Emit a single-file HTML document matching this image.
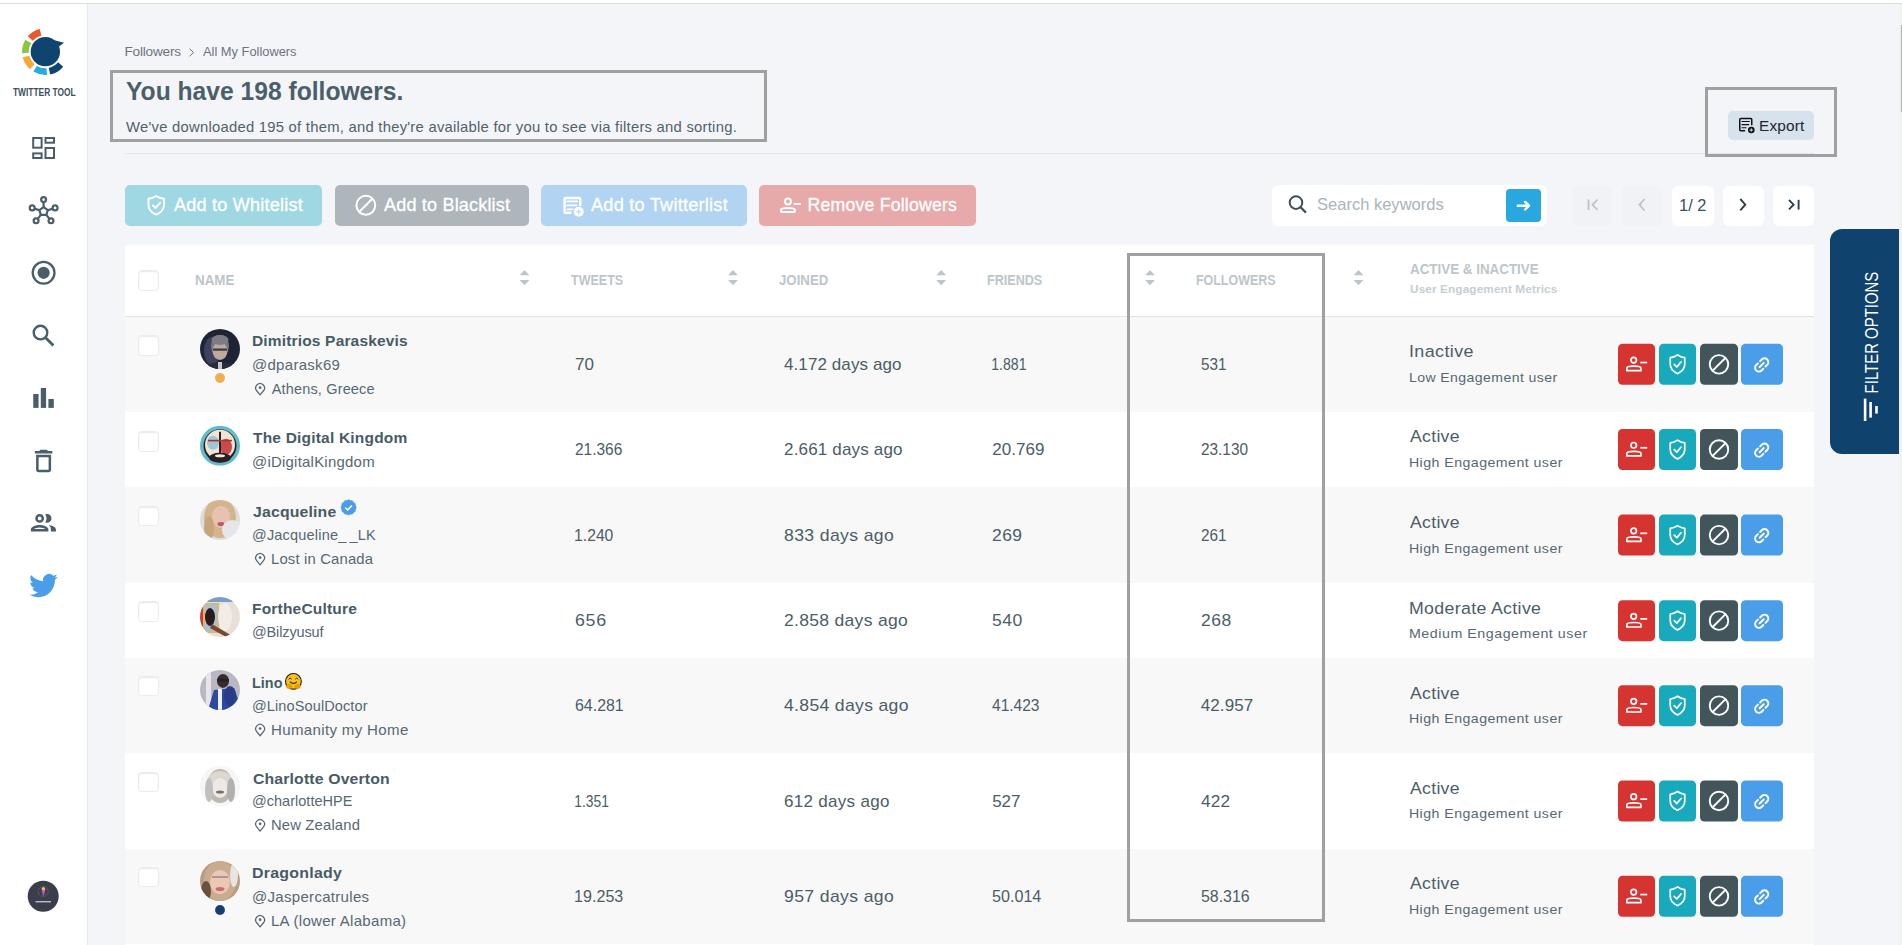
<!DOCTYPE html>
<html><head><meta charset="utf-8"><title>Followers</title><style>
*{margin:0;padding:0}
html,body{width:1902px;height:945px;overflow:hidden}
body{background:#f4f5f9;position:relative;font-family:"Liberation Sans", sans-serif}
.b{position:absolute}
.t{position:absolute;line-height:1;white-space:nowrap;z-index:3}
.ov{position:absolute;left:0;top:0;z-index:2;overflow:visible}
.top{z-index:5}
</style></head>
<body>
<div class="b" style="left:0px;top:0px;width:1902px;height:3px;background:#fff"></div><div class="b" style="left:0px;top:3px;width:1902px;height:1px;background:#dcdfe0"></div><div class="b" style="left:0px;top:4px;width:87px;height:941px;background:#fff"></div><div class="b" style="left:87px;top:4px;width:1px;height:941px;background:#e4e8f4"></div><div class="b" style="left:1899px;top:4px;width:3px;height:941px;background:#f1f1f1"></div><div class="b" style="left:1900.5px;top:25px;width:1.5px;height:87px;background:#b0b0b0"></div><div class="b" style="left:125px;top:153px;width:1689px;height:1px;background:#e2e7f0"></div><div class="b" style="left:1728px;top:111px;width:86px;height:29px;background:#d6e2ec;border-radius:5px"></div><div class="b" style="left:125px;top:185px;width:197px;height:41px;background:#9fd8e2;border-radius:5px"></div><div class="b" style="left:335px;top:185px;width:194px;height:41px;background:#aeb5bb;border-radius:5px"></div><div class="b" style="left:541px;top:185px;width:206px;height:41px;background:#b1d4f3;border-radius:5px"></div><div class="b" style="left:759px;top:185px;width:217px;height:41px;background:#e8a9aa;border-radius:5px"></div><div class="b" style="left:1272px;top:185px;width:275px;height:41px;background:#fff;border-radius:6px"></div><div class="b" style="left:1506px;top:189px;width:35px;height:32.5px;background:#29a8e0;border-radius:4px"></div><div class="b" style="left:1572px;top:185.5px;width:40px;height:40.5px;background:#f0f2f5;border-radius:6px"></div><div class="b" style="left:1622px;top:185.5px;width:40px;height:40.5px;background:#f0f2f5;border-radius:6px"></div><div class="b" style="left:1672px;top:185.5px;width:42px;height:40.5px;background:#fff;border-radius:6px"></div><div class="b" style="left:1723px;top:185.5px;width:40.5px;height:40.5px;background:#fff;border-radius:6px"></div><div class="b" style="left:1773px;top:185.5px;width:41px;height:40.5px;background:#fff;border-radius:6px"></div><div class="b" style="left:125px;top:245px;width:1689px;height:71px;background:#fff"></div><div class="b" style="left:125px;top:316px;width:1689px;height:1px;background:#dfe4ee"></div><div class="b" style="left:138.3px;top:270.2px;width:20.5px;height:20.5px;background:#fff;border:1px solid #ebebeb;border-radius:3.5px;box-shadow:inset 0 1px 1.5px rgba(0,0,0,0.09);box-sizing:border-box"></div><div class="b" style="left:125px;top:316.9px;width:1689px;height:94.90000000000003px;background:#f8f8f8"></div><div class="b" style="left:138.2px;top:335.3px;width:20.6px;height:20.6px;background:#fff;border:1px solid #ebebeb;border-radius:3.5px;box-shadow:inset 0 1px 1.5px rgba(0,0,0,0.09);box-sizing:border-box"></div><div class="b" style="left:125px;top:411.8px;width:1689px;height:75.5px;background:#ffffff"></div><div class="b" style="left:138.2px;top:431.3px;width:20.6px;height:20.6px;background:#fff;border:1px solid #ebebeb;border-radius:3.5px;box-shadow:inset 0 1px 1.5px rgba(0,0,0,0.09);box-sizing:border-box"></div><div class="b" style="left:125px;top:487.3px;width:1689px;height:95.59999999999997px;background:#f8f8f8"></div><div class="b" style="left:138.2px;top:505.8px;width:20.6px;height:20.6px;background:#fff;border:1px solid #ebebeb;border-radius:3.5px;box-shadow:inset 0 1px 1.5px rgba(0,0,0,0.09);box-sizing:border-box"></div><div class="b" style="left:125px;top:582.9px;width:1689px;height:75.5px;background:#ffffff"></div><div class="b" style="left:138.2px;top:601.3px;width:20.6px;height:20.6px;background:#fff;border:1px solid #ebebeb;border-radius:3.5px;box-shadow:inset 0 1px 1.5px rgba(0,0,0,0.09);box-sizing:border-box"></div><div class="b" style="left:125px;top:658.4px;width:1689px;height:94.5px;background:#f8f8f8"></div><div class="b" style="left:138.2px;top:675.8px;width:20.6px;height:20.6px;background:#fff;border:1px solid #ebebeb;border-radius:3.5px;box-shadow:inset 0 1px 1.5px rgba(0,0,0,0.09);box-sizing:border-box"></div><div class="b" style="left:125px;top:752.9px;width:1689px;height:96.10000000000002px;background:#ffffff"></div><div class="b" style="left:138.2px;top:771.9px;width:20.6px;height:20.6px;background:#fff;border:1px solid #ebebeb;border-radius:3.5px;box-shadow:inset 0 1px 1.5px rgba(0,0,0,0.09);box-sizing:border-box"></div><div class="b" style="left:125px;top:849px;width:1689px;height:94.70000000000005px;background:#f8f8f8"></div><div class="b" style="left:138.2px;top:866.7px;width:20.6px;height:20.6px;background:#fff;border:1px solid #ebebeb;border-radius:3.5px;box-shadow:inset 0 1px 1.5px rgba(0,0,0,0.09);box-sizing:border-box"></div><div class="b" style="left:125px;top:943.7px;width:1689px;height:2px;background:#fff"></div>
<svg class="ov" width="1902" height="945" viewBox="0 0 1902 945"><defs></defs><path d="M39.71,29.04 A23.3,23.3 0 0 0 27.77,36.36 L32.82,40.76 A16.6,16.6 0 0 1 41.33,35.54 Z" fill="#e8582a"/><path d="M25.38,39.65 A23.3,23.3 0 0 0 22.11,53.28 L28.79,52.81 A16.6,16.6 0 0 1 31.12,43.10 Z" fill="#8cc63f"/><path d="M22.74,57.29 A23.3,23.3 0 0 0 30.06,69.23 L34.46,64.18 A16.6,16.6 0 0 1 29.24,55.67 Z" fill="#f6a935"/><path d="M33.35,71.62 A23.3,23.3 0 0 0 46.98,74.89 L46.51,68.21 A16.6,16.6 0 0 1 36.80,65.88 Z" fill="#29a9e1"/><path d="M50.19,74.44 A23.3,23.3 0 0 0 63.20,66.63 L58.07,62.32 A16.6,16.6 0 0 1 48.80,67.89 Z" fill="#0f4470"/><circle cx="45.35" cy="51.65" r="14.65" fill="#0f4470"/><path d="M53.5,40 L64,42.7 L58.9,46.6 Z" fill="#0f4470"/><g fill="none" stroke="#4a5e69" stroke-width="2"><rect x="33.2" y="138" width="8.4" height="9.7"/><rect x="45.5" y="138" width="8.5" height="4.7"/><rect x="33.2" y="153.4" width="8.4" height="4.6"/><rect x="45.5" y="148" width="8.5" height="10"/></g><g fill="none" stroke="#4a5e69" stroke-width="2.2" stroke-linejoin="round"><line x1="43.60" y1="207.10" x2="43.60" y2="202.10"/><circle cx="43.6" cy="199.6" r="2.45"/><line x1="39.40" y1="210.18" x2="34.58" y2="208.65"/><circle cx="32.2" cy="207.9" r="2.45"/><line x1="47.80" y1="210.19" x2="52.71" y2="208.65"/><circle cx="55.1" cy="207.9" r="2.45"/><line x1="40.84" y1="214.93" x2="37.67" y2="218.85"/><circle cx="36.1" cy="220.8" r="2.45"/><line x1="46.34" y1="214.94" x2="49.44" y2="218.84"/><circle cx="51.0" cy="220.8" r="2.45"/><path d="M43.60,207.10 L47.80,210.19 L46.34,214.94 L40.84,214.93 L39.40,210.18 Z"/></g><circle cx="43.6" cy="272.8" r="10.9" fill="none" stroke="#4a5e69" stroke-width="2.3"/><circle cx="43.6" cy="272.8" r="6.1" fill="#4a5e69"/><circle cx="40.5" cy="332.6" r="6.8" fill="none" stroke="#4a5e69" stroke-width="2.4"/><line x1="45.6" y1="337.7" x2="53.4" y2="345.5" stroke="#4a5e69" stroke-width="2.8"/><g fill="#4a5e69"><rect x="33.25" y="394" width="5.3" height="13.9"/><rect x="40.8" y="388" width="5.3" height="19.9"/><rect x="48.4" y="399" width="5.4" height="8.9"/></g><g transform="translate(28.6,446) scale(1.25)" fill="#4a5e69"><path d="M16 9v10H8V9h8m-1.5-6h-5l-1 1H5v2h14V4h-3.5l-1-1zM18 7H6v12c0 1.1.9 2 2 2h8c1.1 0 2-.9 2-2V7z"/></g><g transform="translate(28.4,507.85) scale(1.25)" fill="#4a5e69"><path d="M9 13.75c-2.34 0-7 1.17-7 3.5V19h14v-1.75c0-2.33-4.66-3.5-7-3.5zM4.34 17c.84-.58 2.87-1.25 4.66-1.25s3.82.67 4.66 1.25H4.34zM9 12c1.93 0 3.5-1.57 3.5-3.5S10.93 5 9 5 5.5 6.57 5.5 8.5 7.07 12 9 12zm0-5c.83 0 1.5.67 1.5 1.5S9.830 10 9 10s-1.5-.67-1.5-1.5S8.17 7 9 7zm7.04 6.81c1.16.84 1.96 1.96 1.96 3.44V19h4v-1.75c0-2.02-3.5-3.17-5.96-3.44zM15 12c1.93 0 3.5-1.57 3.5-3.5S16.93 5 15 5c-.54 0-1.04.13-1.5.35.63.89 1 1.98 1 3.15s-.37 2.26-1 3.15c.46.22.96.35 1.5.35z"/></g><g transform="translate(29.2,571.3) scale(1.19)" fill="#4a9de9"><path d="M23.953 4.57a10 10 0 01-2.825.775 4.958 4.958 0 002.163-2.723c-.951.555-2.005.959-3.127 1.184a4.92 4.92 0 00-8.384 4.482C7.69 8.095 4.067 6.13 1.64 3.162a4.822 4.822 0 00-.666 2.475c0 1.71.87 3.213 2.188 4.096a4.904 4.904 0 01-2.228-.616v.06a4.923 4.923 0 003.946 4.827 4.996 4.996 0 01-2.212.085 4.936 4.936 0 004.604 3.417 9.867 9.867 0 01-6.102 2.105c-.39 0-.779-.023-1.17-.067a13.995 13.995 0 007.557 2.209c9.053 0 13.998-7.496 13.998-13.985 0-.21 0-.42-.015-.63A9.935 9.935 0 0024 4.59z"/></g><path d="M189.6,48.8 L193.6,52.5 L189.6,56.2" fill="none" stroke="#6d7480" stroke-width="1"/><circle cx="43.2" cy="896.2" r="15.5" fill="#3a3e4a"/><circle cx="43.2" cy="891.5" r="5" fill="none" stroke="#a07850" stroke-width="0.8" stroke-dasharray="1 1.2"/><path d="M41.5,889 Q43.5,887 45.5,889 L44.5,893.5 L42.5,893.5 Z" fill="#e050b0"/><circle cx="43.4" cy="888.6" r="1.6" fill="#f4c070"/><path d="M42.3,893.5 L43.4,896.5 L44.5,893.5 Z" fill="#5080e0"/><rect x="35.5" y="901" width="15.5" height="1.4" fill="#dde" opacity="0.8"/><path d="M156.20,195.95 C159.69,198.38 163.95,198.75 163.95,198.75 L163.95,205.30 C163.95,210.54 159.30,213.34 156.20,214.65 C153.10,213.34 148.45,210.54 148.45,205.30 L148.45,198.75 C148.45,198.75 152.71,198.38 156.20,195.95 Z" fill="none" stroke="white" stroke-width="1.9" stroke-linejoin="round"/><path d="M152.72,205.30 L155.50,207.98 L160.03,202.83" fill="none" stroke="white" stroke-width="1.9" stroke-linecap="round" stroke-linejoin="round"/><circle cx="365.85" cy="205.3" r="9.45" fill="none" stroke="white" stroke-width="2.0"/><line x1="372.84" y1="198.31" x2="358.86" y2="212.29" stroke="white" stroke-width="2.0"/><path d="M580.20,206.26 L580.20,199.00 Q580.20,198.00 579.20,198.00 L565.60,198.00 Q564.60,198.00 564.60,199.00 L564.60,211.80 Q564.60,212.80 565.60,212.80 L571.50,212.80" fill="none" stroke="white" stroke-width="2.4"/><line x1="567.36" y1="201.44" x2="577.26" y2="201.44" stroke="white" stroke-width="1.80" stroke-linecap="round"/><line x1="567.36" y1="205.40" x2="576.36" y2="205.40" stroke="white" stroke-width="1.80" stroke-linecap="round"/><line x1="567.36" y1="209.36" x2="572.76" y2="209.36" stroke="white" stroke-width="1.80" stroke-linecap="round"/><circle cx="578.7" cy="211.8" r="5.8" fill="#b1d4f3"/><circle cx="578.7" cy="211.8" r="5.0" fill="white"/><path d="M576.20,211.8 H581.20 M578.7,209.30 V214.30" stroke="#b1d4f3" stroke-width="1"/><circle cx="787.95" cy="201.5" r="2.90" fill="none" stroke="white" stroke-width="2"/><path d="M781.10,212.00 L781.10,209.65 Q781.10,207.90 787.95,207.90 Q794.80,207.90 794.80,209.65 L794.80,212.00 Z" fill="none" stroke="white" stroke-width="2" stroke-linejoin="round"/><line x1="793.8" y1="204" x2="800.9" y2="204" stroke="white" stroke-width="2"/><path d="M1751.75,125.33 L1751.75,119.55 Q1751.75,118.55 1750.75,118.55 L1740.75,118.55 Q1739.75,118.55 1739.75,119.55 L1739.75,129.75 Q1739.75,130.75 1740.75,130.75 L1745.08,130.75" fill="none" stroke="#111" stroke-width="1.5"/><line x1="1741.97" y1="121.50" x2="1749.39" y2="121.50" stroke="#111" stroke-width="1.12" stroke-linecap="round"/><line x1="1741.97" y1="124.65" x2="1748.72" y2="124.65" stroke="#111" stroke-width="1.12" stroke-linecap="round"/><line x1="1741.97" y1="127.80" x2="1746.02" y2="127.80" stroke="#111" stroke-width="1.12" stroke-linecap="round"/><circle cx="1751.3" cy="130" r="4.1" fill="#d6e2ec"/><circle cx="1751.3" cy="130" r="3.3" fill="#111"/><path d="M1749.65,130 H1752.95 M1751.3,128.35 V131.65" stroke="#d6e2ec" stroke-width="1"/><circle cx="1296" cy="202.6" r="6.3" fill="none" stroke="#3d4f5c" stroke-width="2"/><line x1="1300.6" y1="207.2" x2="1306" y2="212.6" stroke="#3d4f5c" stroke-width="2.2"/><path d="M1517.8,205.7 H1529 M1525.2,201.9 L1529,205.7 L1525.2,209.5" fill="none" stroke="white" stroke-width="2.4" stroke-linecap="round" stroke-linejoin="round"/><g fill="none" stroke="#b9c3c8" stroke-width="1.8"><line x1="1588.5" y1="199.5" x2="1588.5" y2="210"/><path d="M1597.5,199.5 L1592.5,204.8 L1597.5,210"/><path d="M1644.5,199 L1639.5,204.8 L1644.5,210.5"/></g><g fill="none" stroke="#2f3f4c" stroke-width="1.9"><path d="M1740.3,199 L1745.3,204.7 L1740.3,210.4"/><path d="M1789,200 L1793.6,204.7 L1789,209.4"/><line x1="1798.6" y1="199.8" x2="1798.6" y2="209.6"/></g><path d="M519.6,275.2 L524.5,270.1 L529.4,275.2 Z M519.6,280.1 L524.5,285.3 L529.4,280.1 Z" fill="#bcc5ca"/><path d="M728.1,275.2 L733,270.1 L737.9,275.2 Z M728.1,280.1 L733,285.3 L737.9,280.1 Z" fill="#bcc5ca"/><path d="M936.3000000000001,275.2 L941.2,270.1 L946.1,275.2 Z M936.3000000000001,280.1 L941.2,285.3 L946.1,280.1 Z" fill="#bcc5ca"/><path d="M1145.1,275.2 L1150,270.1 L1154.9,275.2 Z M1145.1,280.1 L1150,285.3 L1154.9,280.1 Z" fill="#bcc5ca"/><path d="M1353.6,275.2 L1358.5,270.1 L1363.4,275.2 Z M1353.6,280.1 L1358.5,285.3 L1363.4,280.1 Z" fill="#bcc5ca"/><clipPath id="ca1"><circle cx="220" cy="349" r="20"/></clipPath><g clip-path="url(#ca1)"><rect x="200" y="329" width="40" height="40" fill="#1e2436" /><ellipse cx="212" cy="351" rx="8" ry="14" fill="#3a4260" /><ellipse cx="220" cy="346" rx="9" ry="11" fill="#76787c" /><ellipse cx="220" cy="351" rx="7.5" ry="9" fill="#bfa89e" /><ellipse cx="220" cy="340" rx="8.5" ry="5" fill="#7b7d82" /><rect x="213" y="348.5" width="14" height="2.2" fill="#3a3a40" /><ellipse cx="220" cy="369" rx="14" ry="7" fill="#2a2c3a" /><rect x="218" y="362" width="4" height="7" fill="#c8c8cc" /></g><circle cx="220" cy="378" r="4.9" fill="#f4ac4c"/><path d="M260.10,394.95 L256.70,390.75 A4.38,4.38 0 1 1 263.50,390.75 Z" fill="none" stroke="#566873" stroke-width="1.25" stroke-linejoin="round"/><circle cx="260.10" cy="387.70" r="1.35" fill="#566873"/><rect x="1618" y="343.85" width="37" height="41" rx="4.5" fill="#d63431"/><rect x="1659" y="343.85" width="37" height="41" rx="4.5" fill="#18a9bd"/><rect x="1700" y="343.85" width="38" height="41" rx="4.5" fill="#41555b"/><rect x="1741" y="343.85" width="42" height="41" rx="4.5" fill="#4a9de9"/><circle cx="1633.7" cy="360.05" r="2.75" fill="none" stroke="white" stroke-width="1.7"/><path d="M1626.85,370.70 L1626.85,368.14 Q1626.85,366.20 1633.90,366.20 Q1640.95,366.20 1640.95,368.14 L1640.95,370.70 Z" fill="none" stroke="white" stroke-width="1.7" stroke-linejoin="round"/><line x1="1640.3" y1="362.55" x2="1647.2" y2="362.55" stroke="white" stroke-width="1.7"/><path d="M1677.50,354.90 C1680.76,357.34 1684.75,357.72 1684.75,357.72 L1684.75,364.30 C1684.75,369.56 1680.40,372.38 1677.50,373.70 C1674.60,372.38 1670.25,369.56 1670.25,364.30 L1670.25,357.72 C1670.25,357.72 1674.24,357.34 1677.50,354.90 Z" fill="none" stroke="white" stroke-width="1.7" stroke-linejoin="round"/><path d="M1674.26,364.30 L1676.85,366.97 L1681.06,361.84" fill="none" stroke="white" stroke-width="1.7" stroke-linecap="round" stroke-linejoin="round"/><circle cx="1719" cy="364.35" r="9.25" fill="none" stroke="white" stroke-width="1.9"/><line x1="1725.83" y1="357.52" x2="1712.17" y2="371.18" stroke="white" stroke-width="1.9"/><g transform="translate(1761.70,364.95) rotate(-45) scale(1.0)" fill="none" stroke="white" stroke-width="2" stroke-linecap="round"><path d="M1.5500000000000003,-3.8 L3.95,-3.8 A3.8,3.8 0 0 1 3.95,3.8 L1.5500000000000003,3.8 M-1.5500000000000003,3.8 L-3.95,3.8 A3.8,3.8 0 0 1 -3.95,-3.8 L-1.5500000000000003,-3.8 M-2.9,0 L2.9,0"/></g><clipPath id="ca2"><circle cx="220" cy="445.8" r="20"/></clipPath><g clip-path="url(#ca2)"><rect x="200" y="425.8" width="40" height="40" fill="#5fbcc8" /><ellipse cx="220" cy="445.8" rx="16.5" ry="16.5" fill="#2a2024" /><ellipse cx="220" cy="444.8" rx="15" ry="15" fill="#f0e4d4" /><ellipse cx="213" cy="442.8" rx="6" ry="7" fill="#9cc8d4" /><ellipse cx="226" cy="446.8" rx="6" ry="8" fill="#c84a4a" /><rect x="219" y="431.8" width="2" height="24" fill="#2a2024" /><ellipse cx="220" cy="457.8" rx="11" ry="5" fill="#2a2024" /><ellipse cx="220" cy="455.8" rx="5" ry="1.5" fill="#f4e8e0" /><rect x="208" y="439.8" width="24" height="1.6" fill="#b03030" /></g><rect x="1618" y="429.05" width="37" height="41" rx="4.5" fill="#d63431"/><rect x="1659" y="429.05" width="37" height="41" rx="4.5" fill="#18a9bd"/><rect x="1700" y="429.05" width="38" height="41" rx="4.5" fill="#41555b"/><rect x="1741" y="429.05" width="42" height="41" rx="4.5" fill="#4a9de9"/><circle cx="1633.7" cy="445.25" r="2.75" fill="none" stroke="white" stroke-width="1.7"/><path d="M1626.85,455.90 L1626.85,453.34 Q1626.85,451.40 1633.90,451.40 Q1640.95,451.40 1640.95,453.34 L1640.95,455.90 Z" fill="none" stroke="white" stroke-width="1.7" stroke-linejoin="round"/><line x1="1640.3" y1="447.75" x2="1647.2" y2="447.75" stroke="white" stroke-width="1.7"/><path d="M1677.50,440.10 C1680.76,442.54 1684.75,442.92 1684.75,442.92 L1684.75,449.50 C1684.75,454.76 1680.40,457.58 1677.50,458.90 C1674.60,457.58 1670.25,454.76 1670.25,449.50 L1670.25,442.92 C1670.25,442.92 1674.24,442.54 1677.50,440.10 Z" fill="none" stroke="white" stroke-width="1.7" stroke-linejoin="round"/><path d="M1674.26,449.50 L1676.85,452.17 L1681.06,447.04" fill="none" stroke="white" stroke-width="1.7" stroke-linecap="round" stroke-linejoin="round"/><circle cx="1719" cy="449.55" r="9.25" fill="none" stroke="white" stroke-width="1.9"/><line x1="1725.83" y1="442.72" x2="1712.17" y2="456.38" stroke="white" stroke-width="1.9"/><g transform="translate(1761.70,450.15) rotate(-45) scale(1.0)" fill="none" stroke="white" stroke-width="2" stroke-linecap="round"><path d="M1.5500000000000003,-3.8 L3.95,-3.8 A3.8,3.8 0 0 1 3.95,3.8 L1.5500000000000003,3.8 M-1.5500000000000003,3.8 L-3.95,3.8 A3.8,3.8 0 0 1 -3.95,-3.8 L-1.5500000000000003,-3.8 M-2.9,0 L2.9,0"/></g><clipPath id="ca3"><circle cx="220" cy="519.9" r="20"/></clipPath><g clip-path="url(#ca3)"><rect x="200" y="499.9" width="40" height="40" fill="#dcdcdc" /><ellipse cx="220" cy="517.9" rx="16" ry="20" fill="#d4b48c" /><ellipse cx="221" cy="516.9" rx="9" ry="11" fill="#e8c2b0" /><ellipse cx="221" cy="523.9" rx="3.5" ry="2" fill="#b85a6a" /><ellipse cx="232" cy="529.9" rx="10" ry="10" fill="#e6e6ea" /><ellipse cx="209" cy="527.9" rx="5" ry="12" fill="#c8a47a" /></g><path d="M260.10,564.85 L256.70,560.65 A4.38,4.38 0 1 1 263.50,560.65 Z" fill="none" stroke="#566873" stroke-width="1.25" stroke-linejoin="round"/><circle cx="260.10" cy="557.60" r="1.35" fill="#566873"/><polygon points="356.30,507.40 355.46,509.24 355.27,511.25 353.62,512.42 352.45,514.07 350.44,514.26 348.60,515.10 346.76,514.26 344.75,514.07 343.58,512.42 341.93,511.25 341.74,509.24 340.90,507.40 341.74,505.56 341.93,503.55 343.58,502.38 344.75,500.73 346.76,500.54 348.60,499.70 350.44,500.54 352.45,500.73 353.62,502.38 355.27,503.55 355.46,505.56" fill="#4a9de9" stroke="#4a9de9" stroke-width="0.6" stroke-linejoin="round"/><path d="M345.2,507.5 L347.7,509.9 L352,505.5" fill="none" stroke="white" stroke-width="1.6"/><rect x="1618" y="514.60" width="37" height="41" rx="4.5" fill="#d63431"/><rect x="1659" y="514.60" width="37" height="41" rx="4.5" fill="#18a9bd"/><rect x="1700" y="514.60" width="38" height="41" rx="4.5" fill="#41555b"/><rect x="1741" y="514.60" width="42" height="41" rx="4.5" fill="#4a9de9"/><circle cx="1633.7" cy="530.8000000000001" r="2.75" fill="none" stroke="white" stroke-width="1.7"/><path d="M1626.85,541.45 L1626.85,538.89 Q1626.85,536.95 1633.90,536.95 Q1640.95,536.95 1640.95,538.89 L1640.95,541.45 Z" fill="none" stroke="white" stroke-width="1.7" stroke-linejoin="round"/><line x1="1640.3" y1="533.3000000000001" x2="1647.2" y2="533.3000000000001" stroke="white" stroke-width="1.7"/><path d="M1677.50,525.65 C1680.76,528.09 1684.75,528.47 1684.75,528.47 L1684.75,535.05 C1684.75,540.31 1680.40,543.13 1677.50,544.45 C1674.60,543.13 1670.25,540.31 1670.25,535.05 L1670.25,528.47 C1670.25,528.47 1674.24,528.09 1677.50,525.65 Z" fill="none" stroke="white" stroke-width="1.7" stroke-linejoin="round"/><path d="M1674.26,535.05 L1676.85,537.72 L1681.06,532.59" fill="none" stroke="white" stroke-width="1.7" stroke-linecap="round" stroke-linejoin="round"/><circle cx="1719" cy="535.1" r="9.25" fill="none" stroke="white" stroke-width="1.9"/><line x1="1725.83" y1="528.27" x2="1712.17" y2="541.93" stroke="white" stroke-width="1.9"/><g transform="translate(1761.70,535.70) rotate(-45) scale(1.0)" fill="none" stroke="white" stroke-width="2" stroke-linecap="round"><path d="M1.5500000000000003,-3.8 L3.95,-3.8 A3.8,3.8 0 0 1 3.95,3.8 L1.5500000000000003,3.8 M-1.5500000000000003,3.8 L-3.95,3.8 A3.8,3.8 0 0 1 -3.95,-3.8 L-1.5500000000000003,-3.8 M-2.9,0 L2.9,0"/></g><clipPath id="ca4"><circle cx="220" cy="617" r="20"/></clipPath><g clip-path="url(#ca4)"><rect x="200" y="597" width="40" height="40" fill="#e8e0d8" /><rect x="200" y="597" width="40" height="5" fill="#7a9cc8" /><rect x="203" y="603" width="16" height="30" fill="#d8b870" /><rect x="205" y="605" width="12" height="26" fill="#a8c0d8" /><rect x="200" y="607" width="3" height="20" fill="#d03838" /><ellipse cx="210" cy="617" rx="5" ry="9" fill="#2a1c18" /><ellipse cx="225" cy="617" rx="7" ry="14" fill="#f2ece6" /><path d="M212,624 L234,637 L226,637 L210,628 Z" fill="#7a4a30"/></g><rect x="1618" y="600.15" width="37" height="41" rx="4.5" fill="#d63431"/><rect x="1659" y="600.15" width="37" height="41" rx="4.5" fill="#18a9bd"/><rect x="1700" y="600.15" width="38" height="41" rx="4.5" fill="#41555b"/><rect x="1741" y="600.15" width="42" height="41" rx="4.5" fill="#4a9de9"/><circle cx="1633.7" cy="616.35" r="2.75" fill="none" stroke="white" stroke-width="1.7"/><path d="M1626.85,627.00 L1626.85,624.44 Q1626.85,622.50 1633.90,622.50 Q1640.95,622.50 1640.95,624.44 L1640.95,627.00 Z" fill="none" stroke="white" stroke-width="1.7" stroke-linejoin="round"/><line x1="1640.3" y1="618.85" x2="1647.2" y2="618.85" stroke="white" stroke-width="1.7"/><path d="M1677.50,611.20 C1680.76,613.64 1684.75,614.02 1684.75,614.02 L1684.75,620.60 C1684.75,625.86 1680.40,628.68 1677.50,630.00 C1674.60,628.68 1670.25,625.86 1670.25,620.60 L1670.25,614.02 C1670.25,614.02 1674.24,613.64 1677.50,611.20 Z" fill="none" stroke="white" stroke-width="1.7" stroke-linejoin="round"/><path d="M1674.26,620.60 L1676.85,623.26 L1681.06,618.14" fill="none" stroke="white" stroke-width="1.7" stroke-linecap="round" stroke-linejoin="round"/><circle cx="1719" cy="620.65" r="9.25" fill="none" stroke="white" stroke-width="1.9"/><line x1="1725.83" y1="613.82" x2="1712.17" y2="627.48" stroke="white" stroke-width="1.9"/><g transform="translate(1761.70,621.25) rotate(-45) scale(1.0)" fill="none" stroke="white" stroke-width="2" stroke-linecap="round"><path d="M1.5500000000000003,-3.8 L3.95,-3.8 A3.8,3.8 0 0 1 3.95,3.8 L1.5500000000000003,3.8 M-1.5500000000000003,3.8 L-3.95,3.8 A3.8,3.8 0 0 1 -3.95,-3.8 L-1.5500000000000003,-3.8 M-2.9,0 L2.9,0"/></g><clipPath id="ca5"><circle cx="220" cy="689.9" r="20"/></clipPath><g clip-path="url(#ca5)"><rect x="200" y="669.9" width="40" height="40" fill="#b8b8c4" /><rect x="206" y="669.9" width="5" height="40" fill="#e8e4e8" /><ellipse cx="223" cy="680.9" rx="6" ry="7" fill="#3a2a28" /><rect x="217" y="678.9" width="12" height="2.5" fill="#202030" /><path d="M208,709.9 L214,689.9 L234,687.9 L242,709.9 Z" fill="#2c48a0"/><rect x="218" y="688.9" width="4" height="21" fill="#f0f0f4" /><ellipse cx="230" cy="695.9" rx="6" ry="10" fill="#2a3c88" /></g><path d="M260.10,735.75 L256.70,731.55 A4.38,4.38 0 1 1 263.50,731.55 Z" fill="none" stroke="#566873" stroke-width="1.25" stroke-linejoin="round"/><circle cx="260.10" cy="728.50" r="1.35" fill="#566873"/><circle cx="293.4" cy="681.4" r="7.9" fill="#fcc21b" stroke="#1a1a1a" stroke-width="1.1"/><path d="M288.6,679.2 Q290.1,677 291.6,679.2 M295.2,679.2 Q296.7,677 298.2,679.2" fill="none" stroke="#2a2a2a" stroke-width="1"/><path d="M289.8,681.6 Q293.4,685.2 297,681.6" fill="none" stroke="#2a2a2a" stroke-width="1.1"/><ellipse cx="289.3" cy="686.3" rx="3.2" ry="2.6" fill="#e8a000"/><ellipse cx="297.5" cy="686.3" rx="3.2" ry="2.6" fill="#e8a000"/><rect x="1618" y="685.15" width="37" height="41" rx="4.5" fill="#d63431"/><rect x="1659" y="685.15" width="37" height="41" rx="4.5" fill="#18a9bd"/><rect x="1700" y="685.15" width="38" height="41" rx="4.5" fill="#41555b"/><rect x="1741" y="685.15" width="42" height="41" rx="4.5" fill="#4a9de9"/><circle cx="1633.7" cy="701.35" r="2.75" fill="none" stroke="white" stroke-width="1.7"/><path d="M1626.85,712.00 L1626.85,709.44 Q1626.85,707.50 1633.90,707.50 Q1640.95,707.50 1640.95,709.44 L1640.95,712.00 Z" fill="none" stroke="white" stroke-width="1.7" stroke-linejoin="round"/><line x1="1640.3" y1="703.85" x2="1647.2" y2="703.85" stroke="white" stroke-width="1.7"/><path d="M1677.50,696.20 C1680.76,698.64 1684.75,699.02 1684.75,699.02 L1684.75,705.60 C1684.75,710.86 1680.40,713.68 1677.50,715.00 C1674.60,713.68 1670.25,710.86 1670.25,705.60 L1670.25,699.02 C1670.25,699.02 1674.24,698.64 1677.50,696.20 Z" fill="none" stroke="white" stroke-width="1.7" stroke-linejoin="round"/><path d="M1674.26,705.60 L1676.85,708.26 L1681.06,703.14" fill="none" stroke="white" stroke-width="1.7" stroke-linecap="round" stroke-linejoin="round"/><circle cx="1719" cy="705.65" r="9.25" fill="none" stroke="white" stroke-width="1.9"/><line x1="1725.83" y1="698.82" x2="1712.17" y2="712.48" stroke="white" stroke-width="1.9"/><g transform="translate(1761.70,706.25) rotate(-45) scale(1.0)" fill="none" stroke="white" stroke-width="2" stroke-linecap="round"><path d="M1.5500000000000003,-3.8 L3.95,-3.8 A3.8,3.8 0 0 1 3.95,3.8 L1.5500000000000003,3.8 M-1.5500000000000003,3.8 L-3.95,3.8 A3.8,3.8 0 0 1 -3.95,-3.8 L-1.5500000000000003,-3.8 M-2.9,0 L2.9,0"/></g><clipPath id="ca6"><circle cx="220" cy="786" r="20"/></clipPath><g clip-path="url(#ca6)"><rect x="200" y="766" width="40" height="40" fill="#f6f6f6" /><ellipse cx="220" cy="786" rx="13" ry="17" fill="#bdb8b0" /><ellipse cx="220" cy="780" rx="12" ry="9" fill="#dcd8d0" /><ellipse cx="220" cy="788" rx="8" ry="10" fill="#eee8e6" /><ellipse cx="220" cy="792" rx="4" ry="1.5" fill="#707070" /><ellipse cx="209" cy="790" rx="4" ry="12" fill="#c0c0c0" /><ellipse cx="231" cy="790" rx="4" ry="12" fill="#b0b0b0" /></g><path d="M260.10,831.05 L256.70,826.85 A4.38,4.38 0 1 1 263.50,826.85 Z" fill="none" stroke="#566873" stroke-width="1.25" stroke-linejoin="round"/><circle cx="260.10" cy="823.80" r="1.35" fill="#566873"/><rect x="1618" y="780.45" width="37" height="41" rx="4.5" fill="#d63431"/><rect x="1659" y="780.45" width="37" height="41" rx="4.5" fill="#18a9bd"/><rect x="1700" y="780.45" width="38" height="41" rx="4.5" fill="#41555b"/><rect x="1741" y="780.45" width="42" height="41" rx="4.5" fill="#4a9de9"/><circle cx="1633.7" cy="796.6500000000001" r="2.75" fill="none" stroke="white" stroke-width="1.7"/><path d="M1626.85,807.30 L1626.85,804.74 Q1626.85,802.80 1633.90,802.80 Q1640.95,802.80 1640.95,804.74 L1640.95,807.30 Z" fill="none" stroke="white" stroke-width="1.7" stroke-linejoin="round"/><line x1="1640.3" y1="799.1500000000001" x2="1647.2" y2="799.1500000000001" stroke="white" stroke-width="1.7"/><path d="M1677.50,791.50 C1680.76,793.94 1684.75,794.32 1684.75,794.32 L1684.75,800.90 C1684.75,806.16 1680.40,808.98 1677.50,810.30 C1674.60,808.98 1670.25,806.16 1670.25,800.90 L1670.25,794.32 C1670.25,794.32 1674.24,793.94 1677.50,791.50 Z" fill="none" stroke="white" stroke-width="1.7" stroke-linejoin="round"/><path d="M1674.26,800.90 L1676.85,803.57 L1681.06,798.44" fill="none" stroke="white" stroke-width="1.7" stroke-linecap="round" stroke-linejoin="round"/><circle cx="1719" cy="800.95" r="9.25" fill="none" stroke="white" stroke-width="1.9"/><line x1="1725.83" y1="794.12" x2="1712.17" y2="807.78" stroke="white" stroke-width="1.9"/><g transform="translate(1761.70,801.55) rotate(-45) scale(1.0)" fill="none" stroke="white" stroke-width="2" stroke-linecap="round"><path d="M1.5500000000000003,-3.8 L3.95,-3.8 A3.8,3.8 0 0 1 3.95,3.8 L1.5500000000000003,3.8 M-1.5500000000000003,3.8 L-3.95,3.8 A3.8,3.8 0 0 1 -3.95,-3.8 L-1.5500000000000003,-3.8 M-2.9,0 L2.9,0"/></g><clipPath id="ca7"><circle cx="220" cy="881" r="20"/></clipPath><g clip-path="url(#ca7)"><rect x="200" y="861" width="40" height="40" fill="#b89c84" /><ellipse cx="220" cy="881" rx="16" ry="20" fill="#c8ac90" /><ellipse cx="220" cy="882" rx="10" ry="12" fill="#ecc8b4" /><rect x="212" y="876" width="16" height="2" fill="#9a8a80" opacity="0.8"/><ellipse cx="220" cy="889" rx="4.5" ry="2" fill="#c87070" /><ellipse cx="234" cy="875" rx="4" ry="12" fill="#e8e4e0" /><ellipse cx="206" cy="891" rx="5" ry="10" fill="#6a5040" /></g><circle cx="220" cy="910" r="4.9" fill="#173f73"/><path d="M260.10,926.95 L256.70,922.75 A4.38,4.38 0 1 1 263.50,922.75 Z" fill="none" stroke="#566873" stroke-width="1.25" stroke-linejoin="round"/><circle cx="260.10" cy="919.70" r="1.35" fill="#566873"/><rect x="1618" y="875.85" width="37" height="41" rx="4.5" fill="#d63431"/><rect x="1659" y="875.85" width="37" height="41" rx="4.5" fill="#18a9bd"/><rect x="1700" y="875.85" width="38" height="41" rx="4.5" fill="#41555b"/><rect x="1741" y="875.85" width="42" height="41" rx="4.5" fill="#4a9de9"/><circle cx="1633.7" cy="892.0500000000001" r="2.75" fill="none" stroke="white" stroke-width="1.7"/><path d="M1626.85,902.70 L1626.85,900.14 Q1626.85,898.20 1633.90,898.20 Q1640.95,898.20 1640.95,900.14 L1640.95,902.70 Z" fill="none" stroke="white" stroke-width="1.7" stroke-linejoin="round"/><line x1="1640.3" y1="894.5500000000001" x2="1647.2" y2="894.5500000000001" stroke="white" stroke-width="1.7"/><path d="M1677.50,886.90 C1680.76,889.34 1684.75,889.72 1684.75,889.72 L1684.75,896.30 C1684.75,901.56 1680.40,904.38 1677.50,905.70 C1674.60,904.38 1670.25,901.56 1670.25,896.30 L1670.25,889.72 C1670.25,889.72 1674.24,889.34 1677.50,886.90 Z" fill="none" stroke="white" stroke-width="1.7" stroke-linejoin="round"/><path d="M1674.26,896.30 L1676.85,898.97 L1681.06,893.84" fill="none" stroke="white" stroke-width="1.7" stroke-linecap="round" stroke-linejoin="round"/><circle cx="1719" cy="896.35" r="9.25" fill="none" stroke="white" stroke-width="1.9"/><line x1="1725.83" y1="889.52" x2="1712.17" y2="903.18" stroke="white" stroke-width="1.9"/><g transform="translate(1761.70,896.95) rotate(-45) scale(1.0)" fill="none" stroke="white" stroke-width="2" stroke-linecap="round"><path d="M1.5500000000000003,-3.8 L3.95,-3.8 A3.8,3.8 0 0 1 3.95,3.8 L1.5500000000000003,3.8 M-1.5500000000000003,3.8 L-3.95,3.8 A3.8,3.8 0 0 1 -3.95,-3.8 L-1.5500000000000003,-3.8 M-2.9,0 L2.9,0"/></g></svg>
<div class="t" style="left:13.00px;top:87.93px;font-size:10.0px;color:#3d5060;font-weight:700;transform:scaleX(0.8381);transform-origin:0.00px 0;">TWITTER TOOL</div><div class="t" style="left:124.40px;top:45.18px;font-size:13.6px;color:#6d7480;letter-spacing:-0.184px;">Followers</div><div class="t" style="left:202.60px;top:45.18px;font-size:13.6px;color:#6d7480;transform:scaleX(0.9450);transform-origin:0.00px 0;">All My Followers</div><div class="t" style="left:125.70px;top:79.14px;font-size:25.7px;color:#4b5f6a;font-weight:700;transform:scaleX(0.9588);transform-origin:0.00px 0;">You have 198 followers.</div><div class="t" style="left:125.50px;top:120.29px;font-size:14.3px;color:#51626c;letter-spacing:0.238px;transform:scaleX(1.0364);transform-origin:0.00px 0;">We&#x27;ve downloaded 195 of them, and they&#x27;re available for you to see via filters and sorting.</div><div class="t" style="left:1758.70px;top:117.91px;font-size:15.1px;color:#1e2430;letter-spacing:0.157px;transform:scaleX(1.0178);transform-origin:1.00px 0;">Export</div><div class="t" style="left:174.40px;top:196.51px;font-size:17.7px;color:#ffffff;letter-spacing:0.198px;transform:scaleX(1.0236);transform-origin:0.00px 0;-webkit-text-stroke:0.3px #fff;">Add to Whitelist</div><div class="t" style="left:383.80px;top:196.51px;font-size:17.7px;color:#ffffff;letter-spacing:0.170px;transform:scaleX(1.0206);transform-origin:0.00px 0;-webkit-text-stroke:0.3px #fff;">Add to Blacklist</div><div class="t" style="left:590.50px;top:196.51px;font-size:17.7px;color:#ffffff;letter-spacing:0.214px;transform:scaleX(1.0272);transform-origin:0.00px 0;-webkit-text-stroke:0.3px #fff;">Add to Twitterlist</div><div class="t" style="left:807.60px;top:196.51px;font-size:17.7px;color:#ffffff;letter-spacing:0.186px;-webkit-text-stroke:0.3px #fff;">Remove Followers</div><div class="t" style="left:1316.80px;top:195.80px;font-size:17px;color:#a9b4bc;transform:scaleX(0.9716);transform-origin:0.00px 0;">Search keywords</div><div class="t" style="left:1679.00px;top:196.90px;font-size:17px;color:#3d4f5c;transform:scaleX(0.9665);transform-origin:1.00px 0;">1/ 2</div><div class="t" style="left:195.00px;top:273.36px;font-size:14.1px;color:#bcc6cb;font-weight:700;transform:scaleX(0.9514);transform-origin:0.00px 0;">NAME</div><div class="t" style="left:570.50px;top:273.36px;font-size:14.1px;color:#bcc6cb;font-weight:700;transform:scaleX(0.8882);transform-origin:0.00px 0;">TWEETS</div><div class="t" style="left:779.20px;top:273.36px;font-size:14.1px;color:#bcc6cb;font-weight:700;transform:scaleX(0.9389);transform-origin:0.00px 0;">JOINED</div><div class="t" style="left:987.10px;top:273.36px;font-size:14.1px;color:#bcc6cb;font-weight:700;transform:scaleX(0.8933);transform-origin:0.00px 0;">FRIENDS</div><div class="t" style="left:1195.70px;top:273.36px;font-size:14.1px;color:#bcc6cb;font-weight:700;transform:scaleX(0.8825);transform-origin:0.00px 0;">FOLLOWERS</div><div class="t" style="left:1410.00px;top:262.36px;font-size:14.1px;color:#bcc6cb;font-weight:700;transform:scaleX(0.9499);transform-origin:0.00px 0;">ACTIVE &amp; INACTIVE</div><div class="t" style="left:1410.00px;top:284.11px;font-size:11.8px;color:#c5ced2;font-weight:700;letter-spacing:0.108px;">User Engagement Metrics</div><div class="t" style="left:252.00px;top:333.37px;font-size:15.5px;color:#475b66;font-weight:700;letter-spacing:0.164px;">Dimitrios Paraskevis</div><div class="t" style="left:252.00px;top:358.22px;font-size:14.5px;color:#566873;letter-spacing:0.302px;transform:scaleX(1.0323);transform-origin:1.00px 0;">@dparask69</div><div class="t" style="left:271.80px;top:382.02px;font-size:14.5px;color:#566873;letter-spacing:0.155px;">Athens, Greece</div><div class="t" style="left:575.00px;top:355.95px;font-size:17px;color:#4b5d67;letter-spacing:-0.055px;">70</div><div class="t" style="left:784.00px;top:355.95px;font-size:17px;color:#4b5d67;letter-spacing:0.092px;">4.172 days ago</div><div class="t" style="left:991.30px;top:355.95px;font-size:17px;color:#4b5d67;transform:scaleX(0.8299);transform-origin:1.00px 0;">1.881</div><div class="t" style="left:1200.80px;top:355.95px;font-size:17px;color:#4b5d67;transform:scaleX(0.8993);transform-origin:0.00px 0;">531</div><div class="t" style="left:1409.00px;top:343.27px;font-size:17.1px;color:#4b5d67;letter-spacing:0.400px;transform:scaleX(1.0465);transform-origin:1.00px 0;">Inactive</div><div class="t" style="left:1409.00px;top:370.80px;font-size:13.4px;color:#566873;letter-spacing:0.394px;transform:scaleX(1.0504);transform-origin:1.00px 0;">Low Engagement user</div><div class="t" style="left:253.00px;top:430.27px;font-size:15.5px;color:#475b66;font-weight:700;letter-spacing:0.200px;">The Digital Kingdom</div><div class="t" style="left:252.00px;top:455.02px;font-size:14.5px;color:#566873;letter-spacing:0.237px;transform:scaleX(1.0302);transform-origin:1.00px 0;">@iDigitalKingdom</div><div class="t" style="left:575.00px;top:441.15px;font-size:17px;color:#4b5d67;transform:scaleX(0.9099);transform-origin:0.00px 0;">21.366</div><div class="t" style="left:784.00px;top:441.15px;font-size:17px;color:#4b5d67;letter-spacing:0.176px;">2.661 days ago</div><div class="t" style="left:992.30px;top:441.15px;font-size:17px;color:#4b5d67;letter-spacing:0.012px;">20.769</div><div class="t" style="left:1200.80px;top:441.15px;font-size:17px;color:#4b5d67;transform:scaleX(0.9041);transform-origin:0.00px 0;">23.130</div><div class="t" style="left:1410.00px;top:428.47px;font-size:17.1px;color:#4b5d67;letter-spacing:0.296px;transform:scaleX(1.0311);transform-origin:0.00px 0;">Active</div><div class="t" style="left:1409.00px;top:456.00px;font-size:13.4px;color:#566873;letter-spacing:0.434px;transform:scaleX(1.0570);transform-origin:1.00px 0;">High Engagement user</div><div class="t" style="left:253.00px;top:504.37px;font-size:15.5px;color:#475b66;font-weight:700;letter-spacing:0.172px;transform:scaleX(1.0189);transform-origin:0.00px 0;">Jacqueline</div><div class="t" style="left:252.00px;top:528.22px;font-size:14.5px;color:#566873;letter-spacing:0.197px;">@Jacqueline_ _LK</div><div class="t" style="left:270.80px;top:551.92px;font-size:14.5px;color:#566873;letter-spacing:0.174px;transform:scaleX(1.0227);transform-origin:1.00px 0;">Lost in Canada</div><div class="t" style="left:574.00px;top:526.70px;font-size:17px;color:#4b5d67;transform:scaleX(0.9224);transform-origin:1.00px 0;">1.240</div><div class="t" style="left:784.00px;top:526.70px;font-size:17px;color:#4b5d67;letter-spacing:0.349px;transform:scaleX(1.0364);transform-origin:0.00px 0;">833 days ago</div><div class="t" style="left:992.30px;top:526.70px;font-size:17px;color:#4b5d67;letter-spacing:0.398px;transform:scaleX(1.0277);transform-origin:0.00px 0;">269</div><div class="t" style="left:1200.80px;top:526.70px;font-size:17px;color:#4b5d67;transform:scaleX(0.8993);transform-origin:0.00px 0;">261</div><div class="t" style="left:1410.00px;top:514.02px;font-size:17.1px;color:#4b5d67;letter-spacing:0.296px;transform:scaleX(1.0311);transform-origin:0.00px 0;">Active</div><div class="t" style="left:1409.00px;top:541.55px;font-size:13.4px;color:#566873;letter-spacing:0.434px;transform:scaleX(1.0570);transform-origin:1.00px 0;">High Engagement user</div><div class="t" style="left:252.00px;top:601.47px;font-size:15.5px;color:#475b66;font-weight:700;letter-spacing:0.196px;">FortheCulture</div><div class="t" style="left:252.00px;top:624.82px;font-size:14.5px;color:#566873;letter-spacing:-0.135px;">@Bilzyusuf</div><div class="t" style="left:575.00px;top:612.25px;font-size:17px;color:#4b5d67;letter-spacing:0.673px;transform:scaleX(1.0460);transform-origin:0.00px 0;">656</div><div class="t" style="left:784.00px;top:612.25px;font-size:17px;color:#4b5d67;letter-spacing:0.288px;transform:scaleX(1.0313);transform-origin:0.00px 0;">2.858 days ago</div><div class="t" style="left:992.30px;top:612.25px;font-size:17px;color:#4b5d67;letter-spacing:0.473px;transform:scaleX(1.0328);transform-origin:0.00px 0;">540</div><div class="t" style="left:1200.80px;top:612.25px;font-size:17px;color:#4b5d67;letter-spacing:0.473px;transform:scaleX(1.0328);transform-origin:0.00px 0;">268</div><div class="t" style="left:1409.00px;top:599.57px;font-size:17.1px;color:#4b5d67;letter-spacing:0.336px;transform:scaleX(1.0371);transform-origin:1.00px 0;">Moderate Active</div><div class="t" style="left:1409.00px;top:627.10px;font-size:13.4px;color:#566873;letter-spacing:0.503px;transform:scaleX(1.0631);transform-origin:1.00px 0;">Medium Engagement user</div><div class="t" style="left:252.00px;top:674.67px;font-size:15.5px;color:#475b66;font-weight:700;transform:scaleX(0.9282);transform-origin:1.00px 0;">Lino</div><div class="t" style="left:252.00px;top:699.42px;font-size:14.5px;color:#566873;letter-spacing:0.119px;">@LinoSoulDoctor</div><div class="t" style="left:270.80px;top:722.82px;font-size:14.5px;color:#566873;letter-spacing:0.332px;transform:scaleX(1.0379);transform-origin:1.00px 0;">Humanity my Home</div><div class="t" style="left:575.00px;top:697.25px;font-size:17px;color:#4b5d67;transform:scaleX(0.9371);transform-origin:0.00px 0;">64.281</div><div class="t" style="left:784.00px;top:697.25px;font-size:17px;color:#4b5d67;letter-spacing:0.315px;transform:scaleX(1.0342);transform-origin:0.00px 0;">4.854 days ago</div><div class="t" style="left:992.30px;top:697.25px;font-size:17px;color:#4b5d67;transform:scaleX(0.9138);transform-origin:0.00px 0;">41.423</div><div class="t" style="left:1200.80px;top:697.25px;font-size:17px;color:#4b5d67;letter-spacing:0.072px;">42.957</div><div class="t" style="left:1410.00px;top:684.57px;font-size:17.1px;color:#4b5d67;letter-spacing:0.296px;transform:scaleX(1.0311);transform-origin:0.00px 0;">Active</div><div class="t" style="left:1409.00px;top:712.10px;font-size:13.4px;color:#566873;letter-spacing:0.434px;transform:scaleX(1.0570);transform-origin:1.00px 0;">High Engagement user</div><div class="t" style="left:253.00px;top:770.57px;font-size:15.5px;color:#475b66;font-weight:700;letter-spacing:0.153px;transform:scaleX(1.0183);transform-origin:0.00px 0;">Charlotte Overton</div><div class="t" style="left:252.00px;top:794.22px;font-size:14.5px;color:#566873;letter-spacing:0.019px;">@charlotteHPE</div><div class="t" style="left:270.80px;top:818.12px;font-size:14.5px;color:#566873;letter-spacing:0.171px;transform:scaleX(1.0199);transform-origin:1.00px 0;">New Zealand</div><div class="t" style="left:574.00px;top:792.55px;font-size:17px;color:#4b5d67;transform:scaleX(0.8153);transform-origin:1.00px 0;">1.351</div><div class="t" style="left:784.00px;top:792.55px;font-size:17px;color:#4b5d67;letter-spacing:0.297px;">612 days ago</div><div class="t" style="left:992.30px;top:792.55px;font-size:17px;color:#4b5d67;letter-spacing:-0.155px;">527</div><div class="t" style="left:1200.80px;top:792.55px;font-size:17px;color:#4b5d67;letter-spacing:0.198px;transform:scaleX(1.0140);transform-origin:0.00px 0;">422</div><div class="t" style="left:1410.00px;top:779.87px;font-size:17.1px;color:#4b5d67;letter-spacing:0.296px;transform:scaleX(1.0311);transform-origin:0.00px 0;">Active</div><div class="t" style="left:1409.00px;top:807.40px;font-size:13.4px;color:#566873;letter-spacing:0.434px;transform:scaleX(1.0570);transform-origin:1.00px 0;">High Engagement user</div><div class="t" style="left:252.00px;top:864.87px;font-size:15.5px;color:#475b66;font-weight:700;letter-spacing:0.253px;transform:scaleX(1.0262);transform-origin:1.00px 0;">Dragonlady</div><div class="t" style="left:252.00px;top:889.82px;font-size:14.5px;color:#566873;letter-spacing:0.287px;transform:scaleX(1.0360);transform-origin:1.00px 0;">@Jaspercatrules</div><div class="t" style="left:270.80px;top:914.02px;font-size:14.5px;color:#566873;letter-spacing:0.276px;transform:scaleX(1.0361);transform-origin:1.00px 0;">LA (lower Alabama)</div><div class="t" style="left:574.00px;top:887.95px;font-size:17px;color:#4b5d67;transform:scaleX(0.9477);transform-origin:1.00px 0;">19.253</div><div class="t" style="left:784.00px;top:887.95px;font-size:17px;color:#4b5d67;letter-spacing:0.349px;transform:scaleX(1.0364);transform-origin:0.00px 0;">957 days ago</div><div class="t" style="left:992.30px;top:887.95px;font-size:17px;color:#4b5d67;transform:scaleX(0.9487);transform-origin:0.00px 0;">50.014</div><div class="t" style="left:1200.80px;top:887.95px;font-size:17px;color:#4b5d67;transform:scaleX(0.9352);transform-origin:0.00px 0;">58.316</div><div class="t" style="left:1410.00px;top:875.27px;font-size:17.1px;color:#4b5d67;letter-spacing:0.296px;transform:scaleX(1.0311);transform-origin:0.00px 0;">Active</div><div class="t" style="left:1409.00px;top:902.80px;font-size:13.4px;color:#566873;letter-spacing:0.434px;transform:scaleX(1.0570);transform-origin:1.00px 0;">High Engagement user</div>
<div class="b top" style="left:110px;top:70px;width:657px;height:72px;border:3px solid #a0a0a0;box-sizing:border-box"></div><div class="b top" style="left:1705px;top:87px;width:132px;height:70px;border:3px solid #a0a0a0;box-sizing:border-box"></div><div class="b top" style="left:1127px;top:253px;width:198px;height:668.6px;border:3px solid #a0a0a0;box-sizing:border-box"></div><div class="b top" style="left:1830px;top:229px;width:69px;height:225px;background:#0f426c;border-radius:12px 0 0 12px"></div><div class="t" style="left:0;top:0;font-size:18.3px;color:#fff;transform-origin:0 0;transform:translate(1878.60px,393.38px) rotate(-90deg) scale(0.8168,1) translate(0,-15.50px);z-index:6">FILTER OPTIONS</div><svg class="ov" style="z-index:6" width="1902" height="945"><g fill="white"><rect x="1863.8" y="398.6" width="2.6" height="22.4"/><rect x="1869.3" y="402" width="2.6" height="15.6"/><rect x="1875.2" y="406" width="2.6" height="7.6"/></g></svg>
</body></html>
